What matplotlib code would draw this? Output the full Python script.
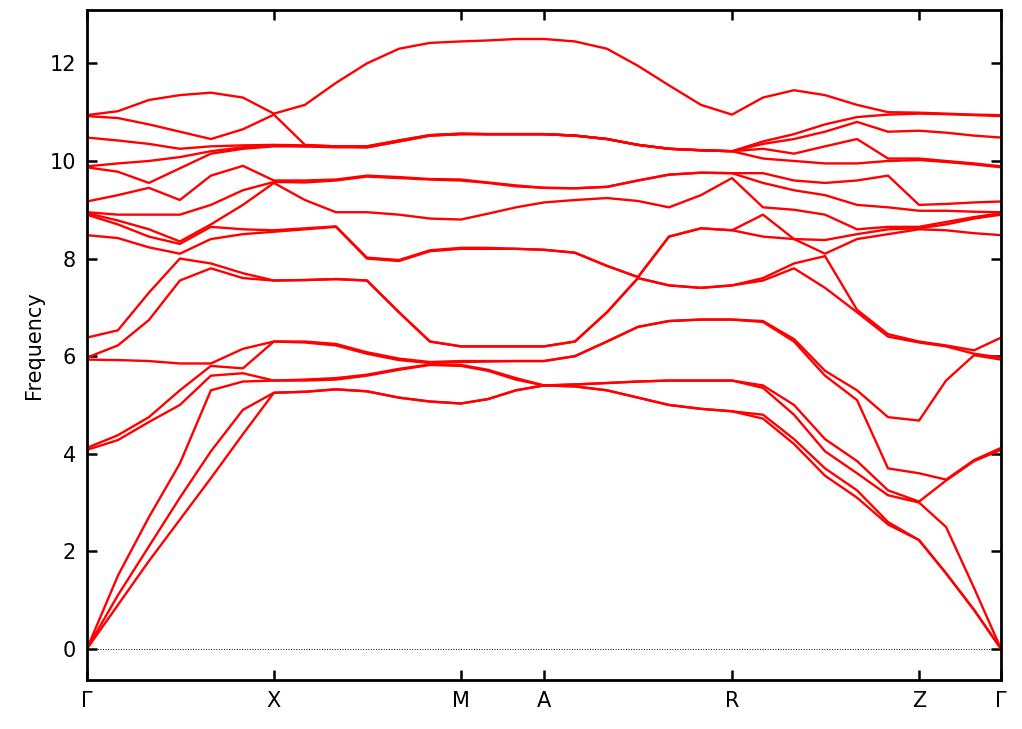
import numpy as np
import matplotlib
matplotlib.use("Agg")
import matplotlib.pyplot as plt

# high-symmetry path
labels = ['Γ', 'X', 'M', 'A', 'R', 'Z', 'Γ']
label_pos = [0, 187, 374, 457, 645, 832, 914]

# sampled positions along the path (same units as label_pos)
q_gx = [0, 31, 62, 93, 124, 156, 187]
q_xm = [218, 249, 280, 312, 343, 374]
q_ma = [401, 429, 457]
q_ar = [488, 520, 551, 582, 614, 645]
q_rz = [676, 707, 738, 770, 801, 832]
q_zg = [859, 887, 914]

# 18 phonon frequencies at each sampled point
f_gx = [
    [0, 0, 0, 4.08, 4.12, 5.93, 5.97, 6.38, 8.48, 8.9, 8.93, 8.95, 9.17, 9.87, 9.89, 10.48, 10.92, 10.94],
    [0.9, 1.1, 1.5, 4.28, 4.38, 5.92, 6.22, 6.53, 8.42, 8.7, 8.78, 8.9, 9.3, 9.78, 9.95, 10.42, 10.88, 11.02],
    [1.8, 2.1, 2.7, 4.65, 4.75, 5.9, 6.74, 7.3, 8.23, 8.45, 8.6, 8.9, 9.45, 9.55, 10.0, 10.35, 10.75, 11.25],
    [2.65, 3.1, 3.8, 5.0, 5.3, 5.85, 7.55, 8.0, 8.1, 8.3, 8.35, 8.9, 9.2, 9.85, 10.08, 10.25, 10.6, 11.35],
    [3.5, 4.05, 5.3, 5.6, 5.8, 5.85, 7.8, 7.9, 8.4, 8.65, 8.7, 9.1, 9.7, 10.15, 10.2, 10.3, 10.45, 11.4],
    [4.4, 4.9, 5.48, 5.65, 5.75, 6.15, 7.6, 7.7, 8.5, 8.6, 9.1, 9.4, 9.9, 10.25, 10.28, 10.32, 10.65, 11.3],
    [5.25, 5.25, 5.5, 5.5, 6.3, 6.3, 7.55, 7.55, 8.55, 8.58, 9.55, 9.57, 9.6, 10.3, 10.32, 10.33, 10.95, 10.97],
]
f_xm = [
    [5.27, 5.27, 5.5, 5.52, 6.28, 6.3, 7.56, 7.56, 8.6, 8.62, 9.2, 9.56, 9.6, 10.3, 10.3, 10.32, 10.33, 11.15],
    [5.32, 5.32, 5.52, 5.55, 6.22, 6.25, 7.58, 7.58, 8.65, 8.66, 8.95, 9.6, 9.62, 10.28, 10.3, 10.3, 10.3, 11.6],
    [5.28, 5.28, 5.6, 5.62, 6.05, 6.08, 7.55, 7.55, 8.0, 8.02, 8.95, 9.68, 9.7, 10.28, 10.28, 10.3, 10.3, 12.0],
    [5.15, 5.15, 5.72, 5.74, 5.92, 5.95, 6.9, 6.9, 7.95, 7.97, 8.9, 9.65, 9.67, 10.4, 10.4, 10.42, 10.42, 12.3],
    [5.07, 5.07, 5.82, 5.83, 5.86, 5.88, 6.3, 6.3, 8.15, 8.17, 8.82, 9.62, 9.63, 10.52, 10.52, 10.53, 10.53, 12.42],
    [5.03, 5.03, 5.8, 5.82, 5.88, 5.9, 6.2, 6.2, 8.2, 8.22, 8.8, 9.6, 9.62, 10.55, 10.55, 10.56, 10.56, 12.45],
]
f_ma = [
    [5.12, 5.12, 5.7, 5.72, 5.89, 5.9, 6.2, 6.2, 8.2, 8.22, 8.92, 9.55, 9.56, 10.55, 10.55, 10.55, 10.55, 12.47],
    [5.3, 5.3, 5.52, 5.55, 5.9, 5.9, 6.2, 6.2, 8.2, 8.2, 9.05, 9.48, 9.5, 10.55, 10.55, 10.55, 10.55, 12.5],
    [5.4, 5.4, 5.4, 5.4, 5.9, 5.9, 6.2, 6.2, 8.18, 8.18, 9.15, 9.45, 9.45, 10.55, 10.55, 10.55, 10.55, 12.5],
]
f_ar = [
    [5.38, 5.38, 5.42, 5.42, 6.0, 6.0, 6.3, 6.3, 8.12, 8.12, 9.2, 9.44, 9.44, 10.52, 10.52, 10.52, 10.52, 12.45],
    [5.3, 5.3, 5.45, 5.45, 6.3, 6.3, 6.9, 6.9, 7.85, 7.85, 9.24, 9.47, 9.47, 10.45, 10.45, 10.45, 10.45, 12.3],
    [5.15, 5.15, 5.48, 5.48, 6.6, 6.6, 7.6, 7.6, 7.62, 7.62, 9.18, 9.6, 9.6, 10.33, 10.33, 10.33, 10.33, 11.95],
    [5.0, 5.0, 5.5, 5.5, 6.72, 6.72, 7.45, 7.45, 8.45, 8.45, 9.05, 9.72, 9.72, 10.25, 10.25, 10.25, 10.25, 11.55],
    [4.92, 4.92, 5.5, 5.5, 6.75, 6.75, 7.4, 7.4, 8.62, 8.62, 9.3, 9.76, 9.76, 10.22, 10.22, 10.22, 10.22, 11.15],
    [4.87, 4.87, 5.5, 5.5, 6.75, 6.75, 7.45, 7.45, 8.58, 8.58, 9.65, 9.75, 9.75, 10.2, 10.2, 10.2, 10.2, 10.95],
]
f_rz = [
    [4.72, 4.8, 5.35, 5.4, 6.7, 6.72, 7.55, 7.6, 8.45, 8.9, 9.05, 9.55, 9.75, 10.05, 10.25, 10.35, 10.4, 11.3],
    [4.2, 4.3, 4.8, 5.0, 6.3, 6.35, 7.8, 7.9, 8.4, 8.4, 9.0, 9.4, 9.6, 10.0, 10.15, 10.45, 10.55, 11.45],
    [3.55, 3.7, 4.05, 4.3, 5.6, 5.7, 7.4, 8.05, 8.1, 8.38, 8.9, 9.3, 9.55, 9.95, 10.3, 10.6, 10.75, 11.35],
    [3.1, 3.25, 3.6, 3.85, 5.1, 5.3, 6.9, 6.95, 8.4, 8.5, 8.6, 9.1, 9.6, 9.95, 10.45, 10.8, 10.9, 11.15],
    [2.55, 2.6, 3.15, 3.25, 3.7, 4.75, 6.4, 6.45, 8.5, 8.6, 8.65, 9.05, 9.7, 10.0, 10.05, 10.6, 10.95, 11.0],
    [2.23, 2.23, 3.0, 3.02, 3.6, 4.68, 6.28, 6.3, 8.6, 8.62, 8.65, 8.98, 9.1, 10.02, 10.05, 10.62, 10.97, 10.99],
]
f_zg = [
    [1.55, 1.55, 2.5, 3.45, 3.47, 5.5, 6.2, 6.22, 8.58, 8.7, 8.75, 8.98, 9.12, 9.98, 10.0, 10.58, 10.96, 10.97],
    [0.8, 0.8, 1.25, 3.85, 3.87, 6.02, 6.05, 6.12, 8.52, 8.82, 8.85, 8.96, 9.15, 9.93, 9.95, 10.52, 10.94, 10.95],
    [0, 0, 0, 4.08, 4.12, 5.93, 5.97, 6.38, 8.48, 8.9, 8.93, 8.95, 9.17, 9.87, 9.89, 10.48, 10.92, 10.94],
]

q = np.array(q_gx + q_xm + q_ma + q_ar + q_rz + q_zg, dtype=float)
freqs = np.sort(np.array(f_gx + f_xm + f_ma + f_ar + f_rz + f_zg), axis=1)

fig = plt.figure(figsize=(10.22, 7.29), dpi=100)
ax = fig.add_axes([0.085, 0.067, 0.8945, 0.919])

for band in range(freqs.shape[1]):
    ax.plot(q, freqs[:, band], color='red', lw=1.7)

ax.axhline(0, color='black', lw=0.7, ls=':')

ax.set_xlim(0, 914)
ax.set_ylim(-0.64, 13.09)
ax.set_xticks(label_pos)
ax.set_xticklabels(labels)
ax.set_yticks([0, 2, 4, 6, 8, 10, 12])
ax.set_ylabel('Frequency', fontsize=15)
ax.tick_params(direction='in', length=7, width=1.8, labelsize=15,
               top=True, right=True, pad=8)
for sp in ax.spines.values():
    sp.set_linewidth(2)

plt.savefig('out.png', dpi=100)
